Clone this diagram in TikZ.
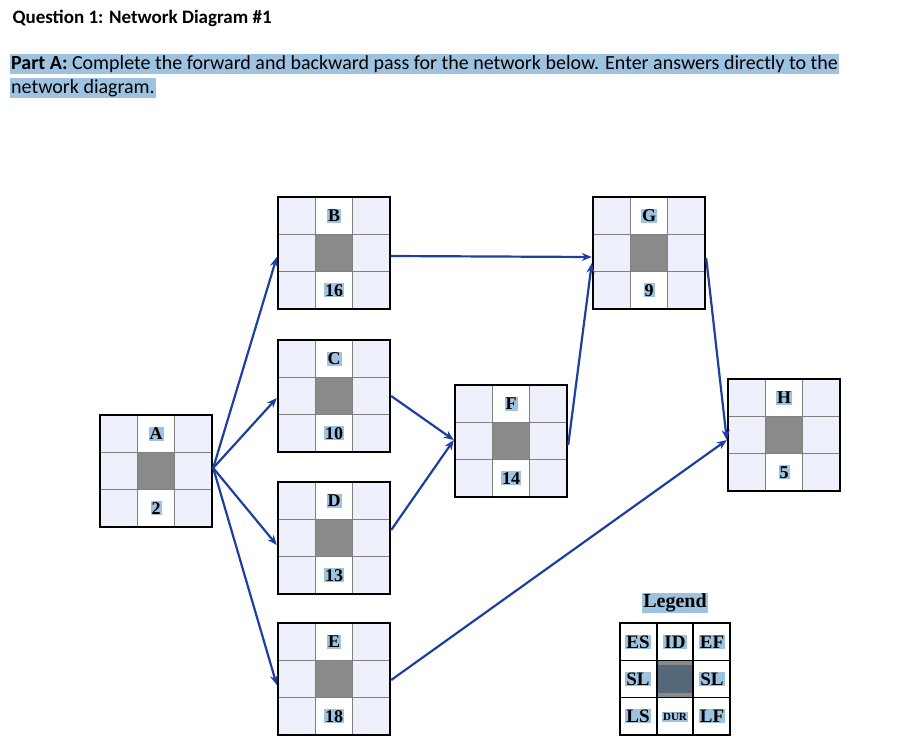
\documentclass[tikz,border=0pt]{standalone}
\usepackage{fontspec}
\setmainfont{Liberation Serif}
\newfontfamily\calfnt{Carlito}
\usetikzlibrary{arrows.meta}
\definecolor{cellc}{HTML}{EEF0FB}
\definecolor{hl}{HTML}{9EC3E0}
\definecolor{arr}{HTML}{1F3FA0}
\definecolor{midg}{HTML}{8A8A8A}
\definecolor{lgd}{HTML}{55687A}
\tikzset{
  box/.style={draw=black,line width=2.4pt,minimum size=112pt,inner sep=0pt},
  lab/.style={fill=hl,inner sep=1pt,font=\bfseries\fontsize{18}{18}\selectfont},
  con/.style={arr,line width=2.2pt,-{Stealth[length=10pt,width=8pt]}}
}
\newcommand{\actbox}[5]{%
  \begin{scope}[shift={(#2,#3)}]
  \fill[cellc] (-56,-56) rectangle (56,56);
  \fill[white] (-18.7,-56) rectangle (18.7,-18.7);
  \fill[white] (-18.7,18.7) rectangle (18.7,56);
  \fill[midg] (-18.7,-18.7) rectangle (18.7,18.7);
  \draw[gray,line width=1.4pt] (-18.7,-56)--(-18.7,56) (18.7,-56)--(18.7,56) (-56,-18.7)--(56,-18.7) (-56,18.7)--(56,18.7);
  \node[lab] at (0,-37.3) {#4};
  \node[lab] at (0,37.3) {#5};
  \end{scope}
  \node[box] (#1) at (#2,#3) {};
}
\begin{document}
\begin{tikzpicture}[x=1pt,y=-1pt]
\useasboundingbox (0,0) rectangle (923,752);
\node[anchor=west,font=\calfnt\bfseries\fontsize{19}{19}\selectfont] (q) at (9,18) {Question 1: Network Diagram \#1};
\node[anchor=west,font=\calfnt\fontsize{20}{20}\selectfont,fill=hl,inner sep=1pt] (pa) at (10,64) {\textbf{Part A:} Complete the forward and backward pass for the network below. Enter answers directly to the};
\node[anchor=west,font=\calfnt\fontsize{20}{20}\selectfont,fill=hl,inner sep=1pt] (pb) at (10,88) {network diagram.};
\actbox{A}{156}{471}{A}{2}
\actbox{B}{334}{253}{B}{16}
\actbox{C}{334}{396}{C}{10}
\actbox{D}{334}{538}{D}{13}
\actbox{E}{334}{679}{E}{18}
\actbox{F}{511}{441}{F}{14}
\actbox{G}{649}{253}{G}{9}
\actbox{H}{784}{435}{H}{5}
% legend
\begin{scope}[shift={(675,679)}]
\fill[white] (-55,-56) rectangle (55,56);
\fill[midg] (-18,-18.7) rectangle (18,18.7);
\fill[lgd] (-18,-14) rectangle (18,14);
\draw[black,line width=1.4pt] (-18,-56)--(-18,56) (18,-56)--(18,56) (-55,-18.7)--(55,-18.7) (-55,18.7)--(55,18.7);
\tikzset{lg/.style={fill=hl,inner sep=1pt,font=\bfseries\fontsize{19}{19}\selectfont}}
\node[lg] at (-37,-37) {ES}; \node[lg] at (0,-37) {ID}; \node[lg] at (37,-37) {EF};
\node[lg] at (-37,0) {SL}; \node[lg] at (37,0) {SL};
\node[lg] at (-37,37) {LS}; \node[lg,font=\bfseries\fontsize{11}{11}\selectfont] at (0,38) {DUR}; \node[lg] at (37,37) {LF};
\end{scope}
\node[draw=black,line width=2.4pt,minimum width=110pt,minimum height=112pt] (L) at (675,679) {};
\node[fill=hl,inner sep=1pt,font=\bfseries\fontsize{20}{20}\selectfont] (lt) at (675,603) {Legend};
% connectors
\coordinate (a0) at ([yshift=3pt]A.east);
\draw[con] (a0) -- ([yshift=-4pt]B.west);
\draw[con] (a0) -- ([yshift=-2pt]C.west);
\draw[con] (a0) -- ([yshift=-7pt]D.west);
\draw[con] (a0) -- ([yshift=-6pt]E.west);
\draw[con] ([yshift=-3pt]B.east) -- ([yshift=-4pt]G.west);
\draw[con] (C.east) -- ([yshift=1pt]F.west);
\draw[con] ([yshift=8pt]D.east) -- ([yshift=1pt]F.west);
\draw[con] ([yshift=-4pt]F.east) -- ([yshift=-10pt]G.west);
\draw[con] ([yshift=-5pt]G.east) -- ([yshift=-5pt]H.west);
\draw[con] ([yshift=-1pt]E.east) -- ([yshift=-5pt]H.west);
\end{tikzpicture}
\end{document}
